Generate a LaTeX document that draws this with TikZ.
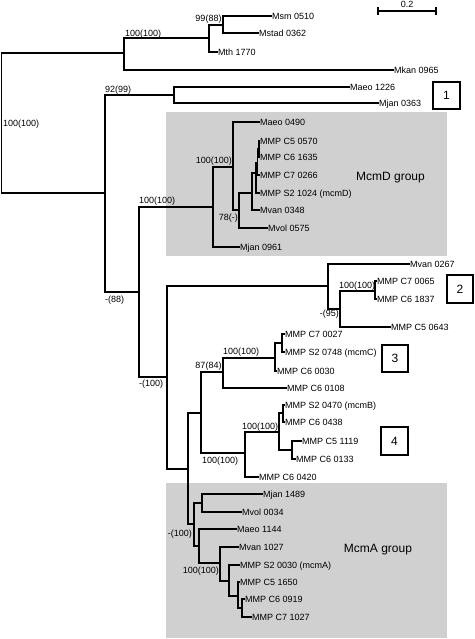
\documentclass[tikz,border=0pt]{standalone}
\usepackage{fontspec}
\setmainfont{Liberation Sans}
\definecolor{shadegray}{RGB}{208,208,208}
\begin{document}
\begin{tikzpicture}[x=1pt,y=-1pt,
  br/.style={line width=1.3pt},
  leaf/.style={anchor=west, inner sep=0pt, font=\fontsize{9}{10}\selectfont, text height=6.4pt, text depth=0pt},
  bs/.style={inner sep=0pt, font=\fontsize{9}{10}\selectfont, text height=6.4pt, text depth=0pt},
  numbox/.style={draw, line width=1.2pt, minimum width=27pt, minimum height=27pt, inner sep=0pt, font=\fontsize{12}{14}\selectfont},
  grp/.style={inner sep=0pt, font=\fontsize{12}{14}\selectfont}
]
\useasboundingbox (0,0) rectangle (474,639);
% shaded groups
\fill[shadegray] (166,112) rectangle (447,256);
\fill[shadegray] (166,483) rectangle (447,638);
\node[grp] (gD) at (390.5,178) {McmD group};
\node[grp] (gA) at (378,550) {McmA group};

% scale bar
\coordinate (sbL) at (378,11);
\coordinate (sbR) at (436,11);
\coordinate (sbLt) at (378,7);
\coordinate (sbLb) at (378,15);
\coordinate (sbRt) at (436,7);
\coordinate (sbRb) at (436,15);
\draw[br] (sbL) -- (sbR);
\draw[br] (sbLt) -- (sbLb);
\draw[br] (sbRt) -- (sbRb);
\node[bs] (sblab) at (407,4.5) {0.2};

% leaves
\node[leaf] (msm) at (272,16) {Msm 0510};
\node[leaf] (mstad) at (259,33) {Mstad 0362};
\node[leaf] (mth) at (218,52) {Mth 1770};
\node[leaf] (mkan) at (394,70) {Mkan 0965};
\node[leaf] (maeoA) at (350,87) {Maeo 1226};
\node[leaf] (mjanA) at (379,103) {Mjan 0363};
\node[leaf] (maeoB) at (260,122) {Maeo 0490};
\node[leaf] (c5a) at (260,141) {MMP C5 0570};
\node[leaf] (c6a) at (260,157) {MMP C6 1635};
\node[leaf] (c7a) at (260,175) {MMP C7 0266};
\node[leaf] (s2a) at (260,193) {MMP S2 1024 (mcmD)};
\node[leaf] (mvanA) at (260,210) {Mvan 0348};
\node[leaf] (mvolA) at (268,228) {Mvol 0575};
\node[leaf] (mjanB) at (240,247) {Mjan 0961};
\node[leaf] (mvanB) at (410,264) {Mvan 0267};
\node[leaf] (c7b) at (377,281) {MMP C7 0065};
\node[leaf] (c6b) at (377,299) {MMP C6 1837};
\node[leaf] (c5b) at (391,327) {MMP C5 0643};
\node[leaf] (c7c) at (285,334) {MMP C7 0027};
\node[leaf] (s2c) at (285,352) {MMP S2 0748 (mcmC)};
\node[leaf] (c6c) at (277,371) {MMP C6 0030};
\node[leaf] (c6d) at (287,388) {MMP C6 0108};
\node[leaf] (s2b) at (285,405) {MMP S2 0470 (mcmB)};
\node[leaf] (c6e) at (285,422) {MMP C6 0438};
\node[leaf] (c5e) at (302,441) {MMP C5 1119};
\node[leaf] (c6f) at (296,459) {MMP C6 0133};
\node[leaf] (c6g) at (259,477) {MMP C6 0420};
\node[leaf] (mjanC) at (263,494) {Mjan 1489};
\node[leaf] (mvolB) at (242,512) {Mvol 0034};
\node[leaf] (maeoC) at (237,529) {Maeo 1144};
\node[leaf] (mvanC) at (239,547) {Mvan 1027};
\node[leaf] (s2d) at (240,565) {MMP S2 0030 (mcmA)};
\node[leaf] (c5h) at (240,582) {MMP C5 1650};
\node[leaf] (c6h) at (245,599) {MMP C6 0919};
\node[leaf] (c7h) at (252,617) {MMP C7 1027};

% internal nodes
\coordinate (root) at (1.5,123);
\coordinate (n1) at (124,53);
\coordinate (n1a) at (209,38);
\coordinate (n1b) at (223,25);
\coordinate (n2) at (105,193);
\coordinate (n3) at (174,95);
\coordinate (n4) at (139,292);
\coordinate (d0) at (213,207);
\coordinate (d1) at (233,167);
\coordinate (d2) at (239,210);
\coordinate (d3) at (252,193);
\coordinate (d4) at (256,173);
\coordinate (d5) at (257.5,163);
\coordinate (d6) at (259,149);
\coordinate (n5) at (167,377);
\coordinate (n6) at (328,286);
\coordinate (n6a) at (340,309);
\coordinate (n6b) at (375,291);
\coordinate (n7) at (188,469);
\coordinate (n8) at (201,413);
\coordinate (n9) at (223,372);
\coordinate (o) at (275,358);
\coordinate (p) at (282,343);
\coordinate (q) at (245,453);
\coordinate (r) at (279,432);
\coordinate (s) at (283,413);
\coordinate (t) at (292,450);
\coordinate (u) at (194,524);
\coordinate (v) at (202,503);
\coordinate (w) at (199,546);
\coordinate (xx) at (220,563);
\coordinate (yy) at (229,581);
\coordinate (zz) at (238,596);
\coordinate (aa) at (242,608);

% branches
\draw[br] (root) |- (n1);
\draw[br] (root) |- (n2);
\draw[br] (n1) |- (n1a);
\draw[br] (n1) |- (mkan.west);
\draw[br] (n1a) |- (n1b);
\draw[br] (n1a) |- (mth.west);
\draw[br] (n1b) |- (msm.west);
\draw[br] (n1b) |- (mstad.west);
\draw[br] (n2) |- (n3);
\draw[br] (n2) |- (n4);
\draw[br] (n3) |- (maeoA.west);
\draw[br] (n3) |- (mjanA.west);
\draw[br] (n4) |- (d0);
\draw[br] (n4) |- (n5);
\draw[br] (d0) |- (d1);
\draw[br] (d0) |- (mjanB.west);
\draw[br] (d1) |- (maeoB.west);
\draw[br] (d1) |- (d2);
\draw[br] (d2) |- (d3);
\draw[br] (d2) |- (mvolA.west);
\draw[br] (d3) |- (d4);
\draw[br] (d3) |- (mvanA.west);
\draw[br] (d4) |- (d5);
\draw[br] (d4) |- (s2a.west);
\draw[br] (d5) |- (d6);
\draw[br] (d5) |- (c7a.west);
\draw[br] (d6) |- (c5a.west);
\draw[br] (d6) |- (c6a.west);
\draw[br] (n5) |- (n6);
\draw[br] (n5) |- (n7);
\draw[br] (n6) |- (mvanB.west);
\draw[br] (n6) |- (n6a);
\draw[br] (n6a) |- (n6b);
\draw[br] (n6a) |- (c5b.west);
\draw[br] (n6b) |- (c7b.west);
\draw[br] (n6b) |- (c6b.west);
\draw[br] (n7) |- (n8);
\draw[br] (n7) |- (u);
\draw[br] (n8) |- (n9);
\draw[br] (n8) |- (q);
\draw[br] (n9) |- (o);
\draw[br] (n9) |- (c6d.west);
\draw[br] (o) |- (p);
\draw[br] (o) |- (c6c.west);
\draw[br] (p) |- (c7c.west);
\draw[br] (p) |- (s2c.west);
\draw[br] (q) |- (r);
\draw[br] (q) |- (c6g.west);
\draw[br] (r) |- (s);
\draw[br] (r) |- (t);
\draw[br] (s) |- (s2b.west);
\draw[br] (s) |- (c6e.west);
\draw[br] (t) |- (c5e.west);
\draw[br] (t) |- (c6f.west);
\draw[br] (u) |- (v);
\draw[br] (u) |- (w);
\draw[br] (v) |- (mjanC.west);
\draw[br] (v) |- (mvolB.west);
\draw[br] (w) |- (maeoC.west);
\draw[br] (w) |- (xx);
\draw[br] (xx) |- (mvanC.west);
\draw[br] (xx) |- (yy);
\draw[br] (yy) |- (s2d.west);
\draw[br] (yy) |- (zz);
\draw[br] (zz) |- (c5h.west);
\draw[br] (zz) |- (aa);
\draw[br] (aa) |- (c6h.west);
\draw[br] (aa) |- (c7h.west);

% support values
\node[bs] (l1) at (208.5,18) {99(88)};
\node[bs,anchor=west] (l2) at (125,33) {100(100)};
\node[bs,anchor=west] (l3) at (3,123) {100(100)};
\node[bs,anchor=west] (l4) at (105,89) {92(99)};
\node[bs,anchor=west] (l5) at (139,200) {100(100)};
\node[bs,anchor=west] (l6) at (105,299) {-(88)};
\node[bs,anchor=west] (l7) at (139,383) {-(100)};
\node[bs,anchor=east] (l8) at (232,160) {100(100)};
\node[bs,anchor=east] (l9) at (238,217) {78(-)};
\node[bs,anchor=east] (l10) at (339,313) {-(95)};
\node[bs,anchor=west] (l11) at (339,285) {100(100)};
\node[bs] (l12) at (208.5,365) {87(84)};
\node[bs,anchor=west] (l13) at (223,351) {100(100)};
\node[bs,anchor=west] (l14) at (242,426) {100(100)};
\node[bs,anchor=west] (l15) at (202,460) {100(100)};
\node[bs,anchor=east] (l16) at (192,533) {-(100)};
\node[bs,anchor=east] (l17) at (219,570) {100(100)};

% numbered boxes
\node[numbox] (b1) at (446.5,95.5) {1};
\node[numbox, minimum width=26pt, minimum height=28pt] (b2) at (460,289) {2};
\node[numbox, minimum width=26pt] (b3) at (395,358.5) {3};
\node[numbox, minimum height=28pt] (b4) at (394.5,441) {4};
\end{tikzpicture}
\end{document}
